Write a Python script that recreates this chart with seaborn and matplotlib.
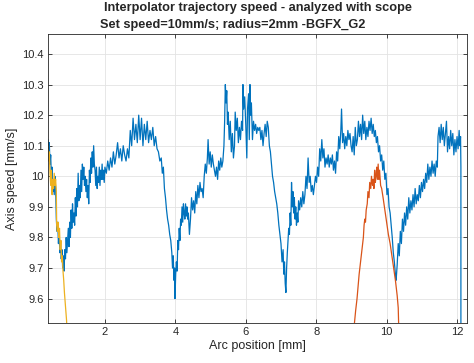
import numpy as np
import pandas as pd
import matplotlib
matplotlib.use("Agg")
import matplotlib.pyplot as plt
import seaborn as sns

# ==========================================
# DATA
# ==========================================
blue_x = [
    0.38, 0.40, 0.42, 0.44, 0.46, 0.48, 0.50, 0.52, 0.54, 0.56, 0.58, 0.60, 0.62, 0.64, 0.66, 0.68,
    0.70, 0.72, 0.74, 0.76, 0.78, 0.80, 0.82, 0.84,
    0.86, 0.88, 0.90, 0.92, 0.94, 0.96, 0.98, 1.00, 1.02, 1.04, 1.06, 1.08, 1.10, 1.12, 1.14, 1.16,
    1.18, 1.20, 1.22, 1.24, 1.26, 1.28, 1.30, 1.32, 1.34, 1.36, 1.38, 1.40, 1.42, 1.44, 1.46, 1.48,
    1.50, 1.52, 1.54, 1.56, 1.58, 1.60, 1.62, 1.64, 1.66, 1.68, 1.70, 1.72, 1.74, 1.76, 1.78, 1.80,
    1.82, 1.84, 1.86, 1.88, 1.90, 1.92, 1.94, 1.96, 1.98, 2.00,
    2.04, 2.08, 2.12, 2.16, 2.20, 2.24, 2.28, 2.32, 2.36, 2.40, 2.44, 2.48, 2.52, 2.56, 2.60, 2.64,
    2.68, 2.72, 2.76, 2.80, 2.84, 2.88, 2.92, 2.96, 3.00, 3.04, 3.08, 3.12, 3.16, 3.20, 3.24, 3.28,
    3.32, 3.36, 3.40, 3.44, 3.48,
    3.52, 3.56, 3.60, 3.63, 3.66, 3.69, 3.72, 3.75, 3.78, 3.81, 3.84, 3.87, 3.90, 3.92, 3.94, 3.96,
    3.98, 3.99, 4.01, 4.03, 4.05, 4.07, 4.09, 4.11, 4.13, 4.15, 4.17, 4.19, 4.21, 4.23, 4.25, 4.27,
    4.29, 4.31, 4.33, 4.35,
    4.37, 4.40, 4.43, 4.46, 4.49, 4.52, 4.55, 4.58, 4.61, 4.64, 4.67, 4.70, 4.73, 4.76, 4.79, 4.82,
    4.85, 4.88, 4.91, 4.93, 4.96, 4.99, 5.02, 5.05, 5.08, 5.11, 5.14, 5.17, 5.20, 5.23, 5.26, 5.29,
    5.32, 5.35, 5.38,
    5.40, 5.42, 5.44, 5.46, 5.48, 5.50, 5.53, 5.56, 5.59, 5.62, 5.65, 5.68, 5.70, 5.73, 5.76, 5.79,
    5.82, 5.85, 5.88, 5.91, 5.92, 5.94, 5.97, 6.00, 6.03, 6.05, 6.08, 6.10, 6.12, 6.14, 6.16, 6.19,
    6.22, 6.25, 6.28, 6.31, 6.34, 6.37, 6.40, 6.43, 6.46, 6.49, 6.52, 6.55, 6.58, 6.61, 6.64, 6.67,
    6.70,
    6.73, 6.76, 6.79, 6.82, 6.85, 6.88, 6.91, 6.94, 6.97, 7.00, 7.03, 7.06, 7.08, 7.10, 7.12, 7.14,
    7.16, 7.18, 7.20, 7.22, 7.24, 7.26, 7.28, 7.30, 7.32, 7.34, 7.36, 7.38, 7.40, 7.42, 7.44, 7.46,
    7.48, 7.50, 7.53, 7.56, 7.59, 7.62, 7.65, 7.68, 7.71, 7.74, 7.77, 7.80, 7.83, 7.86, 7.89,
    7.92, 7.95, 7.98, 8.01, 8.04, 8.07, 8.10, 8.13, 8.16, 8.19, 8.22, 8.25, 8.28, 8.31, 8.34, 8.37,
    8.40, 8.43, 8.46, 8.49, 8.52, 8.55, 8.58, 8.61, 8.64, 8.67, 8.70, 8.72, 8.75, 8.78, 8.81, 8.84,
    8.87, 8.90, 8.93, 8.96, 8.99,
    9.02, 9.05, 9.08, 9.11, 9.14, 9.17, 9.20, 9.23, 9.26, 9.29, 9.32, 9.35, 9.38, 9.41, 9.44, 9.47,
    9.50, 9.53, 9.56, 9.59, 9.62, 9.65, 9.68, 9.71, 9.74, 9.77, 9.80, 9.83, 9.86, 9.89, 9.92, 9.95,
    9.98, 10.01, 10.04, 10.07, 10.10, 10.13, 10.16, 10.19, 10.22, 10.25, 10.27,
    10.30, 10.33, 10.36, 10.39, 10.42, 10.45, 10.48, 10.51, 10.54, 10.57, 10.60, 10.63, 10.66, 10.69,
    10.72, 10.75, 10.78, 10.81, 10.84, 10.87, 10.90, 10.93, 10.96, 10.99, 11.02, 11.05, 11.08, 11.11,
    11.14, 11.17, 11.20, 11.23, 11.26, 11.29, 11.32, 11.35, 11.38, 11.41, 11.44, 11.46, 11.49, 11.52,
    11.55, 11.58, 11.61, 11.64, 11.67, 11.70, 11.73, 11.76, 11.79, 11.82, 11.85, 11.88, 11.91, 11.94,
    11.97, 12.00, 12.03, 12.06, 12.08, 12.10, 12.11, 12.11,
]
blue_y = [
    10.12, 10.09, 10.11, 10.04, 10.07, 9.99, 10.03, 9.95, 9.99, 9.94, 10.00, 9.96, 9.86, 9.82, 9.85, 9.78,
    9.82, 9.75, 9.79, 9.73, 9.76, 9.70, 9.74, 9.69,
    9.76, 9.73, 9.80, 9.75, 9.79, 9.83, 9.77, 9.85, 9.80, 9.89, 9.83, 9.91, 9.85, 9.88, 9.84, 9.93,
    9.87, 9.96, 9.90, 10.01, 9.92, 9.97, 9.93, 10.02, 9.95, 10.04, 9.99, 10.03, 9.97, 10.00, 9.95, 9.99,
    9.93, 9.97, 9.91, 10.02, 9.98, 10.06, 10.01, 10.08, 10.03, 10.10, 10.04, 10.02, 9.97, 10.03, 9.96, 10.00,
    9.98, 10.03, 9.97, 10.02, 9.99, 10.04, 9.99, 10.02, 9.98, 10.03,
    10.01, 10.05, 10.02, 10.06, 10.03, 10.08, 10.04, 10.07, 10.11, 10.06, 10.09, 10.05, 10.10, 10.07, 10.05, 10.09,
    10.06, 10.15, 10.10, 10.19, 10.12, 10.17, 10.11, 10.20, 10.12, 10.19, 10.10, 10.17, 10.12, 10.18, 10.11, 10.15,
    10.12, 10.16, 10.10, 10.13, 10.09,
    10.08, 10.05, 10.06, 10.01, 10.03, 9.96, 9.93, 9.89, 9.86, 9.84, 9.81, 9.79, 9.75, 9.70, 9.74, 9.66,
    9.70, 9.60, 9.68, 9.72, 9.69, 9.79, 9.76, 9.83, 9.79, 9.86, 9.84, 9.90, 9.85, 9.91, 9.88, 9.86,
    9.91, 9.87, 9.90, 9.86,
    9.88, 9.81, 9.86, 9.93, 9.89, 9.92, 9.88, 9.95, 9.91, 9.97, 9.93, 9.98, 9.95, 9.96, 9.93, 10.00,
    10.04, 10.01, 10.06, 10.12, 10.04, 10.08, 10.03, 10.07, 10.04, 10.02, 10.00, 10.03, 9.99, 10.05, 10.02, 10.06,
    10.03, 10.05, 10.10,
    10.18, 10.30, 10.24, 10.28, 10.17, 10.21, 10.12, 10.18, 10.08, 10.14, 10.06, 10.10, 10.21, 10.15, 10.19, 10.11,
    10.16, 10.12, 10.18, 10.15, 10.30, 10.22, 10.26, 10.17, 10.06, 10.22, 10.27, 10.12, 10.30, 10.20, 10.24, 10.12,
    10.18, 10.15, 10.17, 10.14, 10.16, 10.15, 10.16, 10.12, 10.15, 10.10, 10.14, 10.17, 10.13, 10.18, 10.16, 10.10,
    10.08,
    10.04, 10.00, 9.98, 9.95, 9.93, 9.91, 9.88, 9.84, 9.81, 9.78, 9.72, 9.76, 9.68, 9.72, 9.65, 9.62,
    9.70, 9.75, 9.79, 9.83, 9.81, 9.88, 9.84, 9.98, 9.90, 9.95, 9.88, 9.93, 9.86, 9.90, 9.84, 9.88,
    9.85, 9.92, 9.89, 9.93, 9.90, 9.95, 9.91, 9.94, 10.00, 9.96, 10.06, 9.98, 10.00, 9.95, 9.97,
    9.94, 9.97, 10.00, 9.98, 10.03, 10.00, 10.09, 10.05, 10.12, 10.06, 10.09, 10.03, 10.06, 10.04, 10.07, 10.03,
    10.06, 10.04, 10.07, 10.02, 10.05, 10.01, 10.08, 10.05, 10.13, 10.09, 10.15, 10.22, 10.11, 10.14, 10.09, 10.13,
    10.10, 10.15, 10.12, 10.14, 10.10,
    10.08, 10.13, 10.07, 10.16, 10.10, 10.12, 10.18, 10.13, 10.17, 10.12, 10.20, 10.14, 10.18, 10.12, 10.16, 10.13,
    10.18, 10.15, 10.19, 10.14, 10.17, 10.13, 10.15, 10.11, 10.13, 10.08, 10.10, 10.05, 10.07, 10.02, 10.05, 9.99,
    10.01, 9.94, 9.96, 9.90, 9.88, 9.84, 9.80, 9.75, 9.72, 9.68, 9.66,
    9.71, 9.78, 9.74, 9.82, 9.78, 9.86, 9.82, 9.88, 9.84, 9.90, 9.86, 9.93, 9.88, 9.92,
    9.89, 9.94, 9.90, 9.96, 9.91, 9.94, 9.92, 9.97, 9.93, 9.98, 9.95, 9.99, 9.96, 10.01,
    9.98, 10.04, 9.99, 10.03, 10.00, 10.05, 10.01, 10.04, 10.00, 10.05, 10.03, 10.13, 10.16, 10.11,
    10.17, 10.12, 10.16, 10.10, 10.14, 10.18, 10.08, 10.13, 10.09, 10.15, 10.10, 10.14, 10.07, 10.12,
    10.08, 10.13, 10.09, 10.15, 10.10, 10.13, 10.03, 9.40,
]

orange_x = [9.07, 9.12, 9.16, 9.19, 9.22, 9.25, 9.28, 9.31, 9.34, 9.36, 9.38, 9.40, 9.42, 9.45,
            9.47, 9.50, 9.52, 9.55, 9.57, 9.60, 9.62, 9.64, 9.66, 9.68, 9.70, 9.72, 9.74, 9.76,
            9.78, 9.80, 9.83, 9.86, 9.90, 9.95, 10.00, 10.05, 10.10, 10.15, 10.20, 10.25, 10.30,
            10.33, 10.35]
orange_y = [9.50, 9.56, 9.60, 9.64, 9.68, 9.71, 9.74, 9.77, 9.80, 9.84, 9.86, 9.85, 9.89, 9.91,
            9.95, 9.93, 9.98, 9.96, 10.00, 9.97, 9.99, 9.96, 10.02, 9.98, 10.00, 10.03, 9.99, 10.04,
            9.99, 10.02, 9.97, 9.96, 9.93, 9.89, 9.85, 9.81, 9.78, 9.74, 9.70, 9.66, 9.61,
            9.57, 9.48]

yellow_x = [0.38, 0.40, 0.42, 0.44, 0.46, 0.48, 0.50, 0.52, 0.54, 0.56, 0.58, 0.60, 0.62, 0.63,
            0.65, 0.67, 0.69, 0.71, 0.73, 0.75, 0.77, 0.79, 0.81, 0.83, 0.85, 0.87, 0.89, 0.91, 0.93]
yellow_y = [10.10, 10.05, 10.08, 10.01, 9.97, 10.02, 9.94, 9.99, 9.96, 10.01, 9.97, 9.99, 9.95, 9.84,
            9.82, 9.85, 9.80, 9.83, 9.76, 9.79, 9.72, 9.74, 9.69, 9.66, 9.62, 9.59, 9.56, 9.53, 9.48]

x_ticks = [2, 4, 6, 8, 10, 12]
y_ticks = [9.6, 9.7, 9.8, 9.9, 10.0, 10.1, 10.2, 10.3, 10.4]
y_tick_labels = ["9.6", "9.7", "9.8", "9.9", "10", "10.1", "10.2", "10.3", "10.4"]

# ==========================================
# PLOT
# ==========================================
sns.set_theme(style="whitegrid")
plt.rcParams['font.family'] = ['Liberation Sans', 'DejaVu Sans']

fig = plt.figure(figsize=(4.74, 3.63), dpi=100)
ax = fig.add_axes([0.101, 0.110, 0.884, 0.796])

sns.lineplot(x=blue_x, y=blue_y, sort=False, estimator=None, color="#0072BD", lw=0.9, ax=ax)
sns.lineplot(x=orange_x, y=orange_y, sort=False, estimator=None, color="#D95319", lw=0.9, ax=ax)
sns.lineplot(x=yellow_x, y=yellow_y, sort=False, estimator=None, color="#EDB120", lw=0.9, ax=ax)

ax.set_xlim(0.38, 12.28)
ax.set_ylim(9.52, 10.465)
ax.set_xticks(x_ticks)
ax.set_yticks(y_ticks)
ax.set_yticklabels(y_tick_labels)
ax.grid(True, color="#e3e3e3", lw=0.6)
for s in ax.spines.values():
    s.set_color("#262626")
    s.set_linewidth(0.6)
ax.tick_params(direction="in", length=3, width=0.6, colors="#262626",
               labelsize=8, top=True, right=True, bottom=True, left=True, pad=3)
ax.set_xlabel("Arc position [mm]", fontsize=9, color="#262626", labelpad=2)
ax.set_ylabel("Axis speed [mm/s]", fontsize=9, color="#262626", labelpad=3)

fig.text(0.545, 0.978, "Interpolator trajectory speed - analyzed with scope",
         ha="center", va="center", fontsize=9.2, fontweight="bold")
fig.text(0.211, 0.930, "Set speed=10mm/s; radius=2mm -BGFX_G2",
         ha="left", va="center", fontsize=9.2, fontweight="bold")

plt.savefig("out.png", dpi=100)
